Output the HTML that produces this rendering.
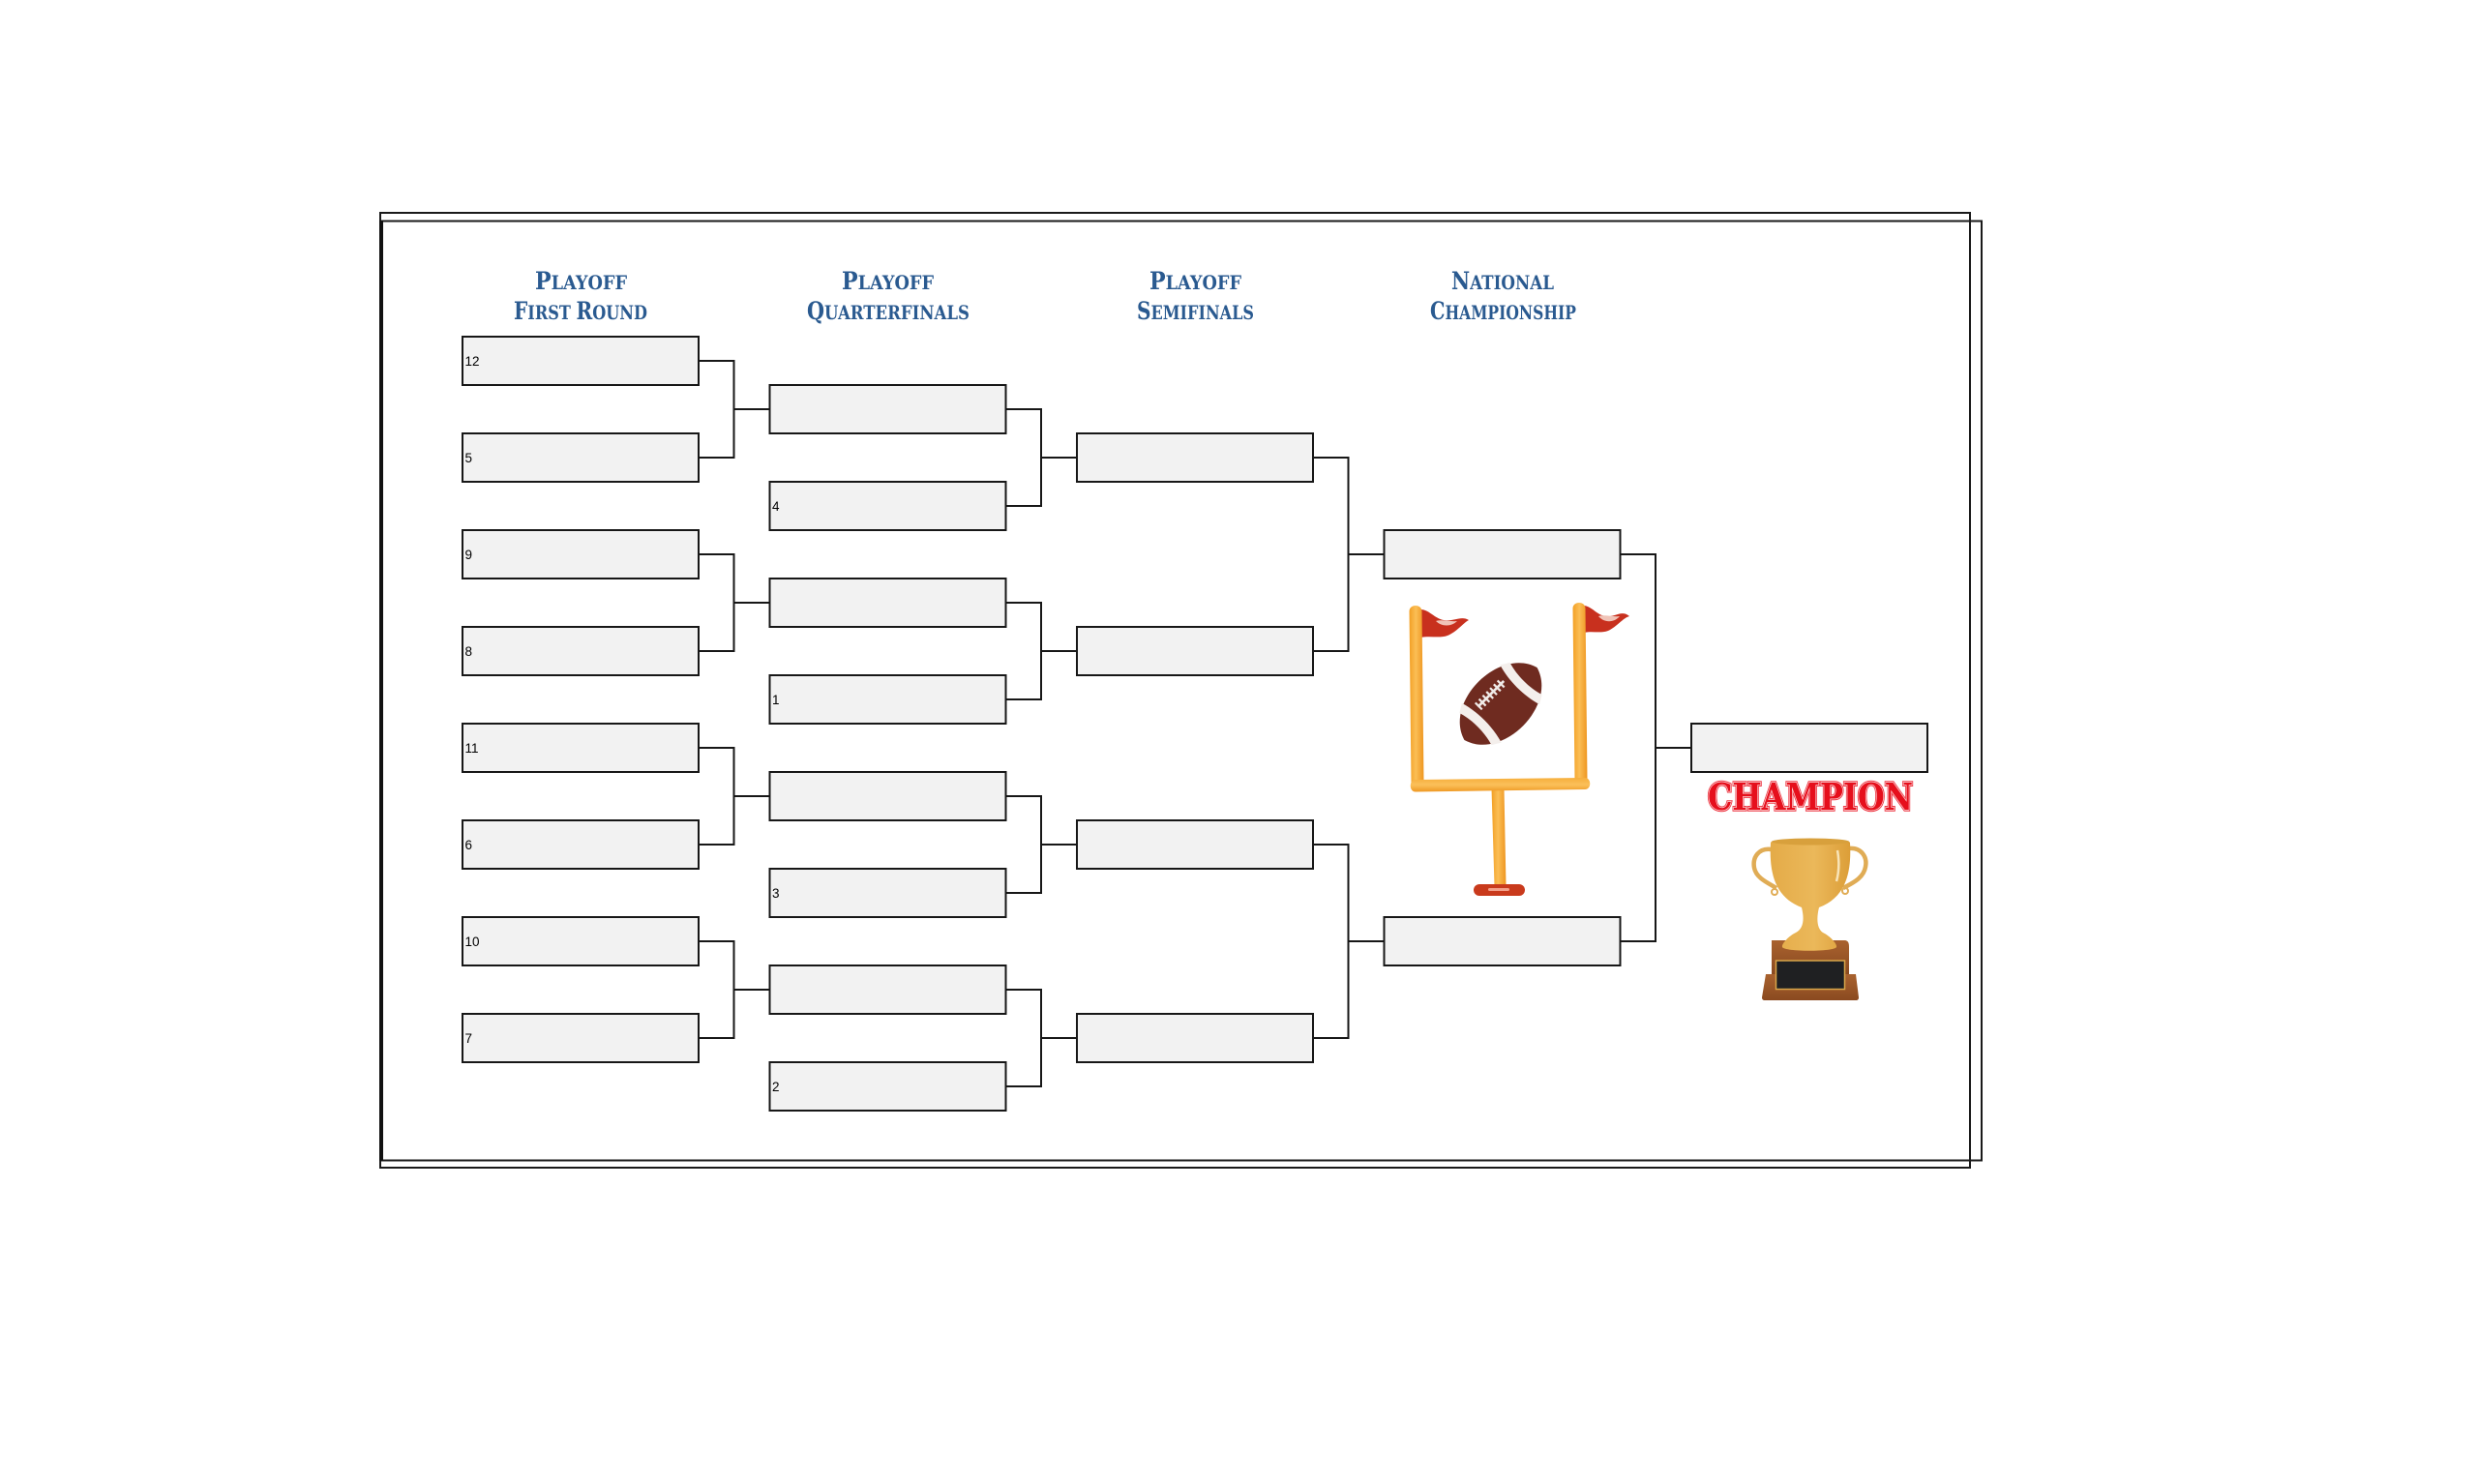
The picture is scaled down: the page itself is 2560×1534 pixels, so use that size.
<!DOCTYPE html>
<html lang="en">
<head>
<meta charset="utf-8">
<title>Playoff Bracket</title>
<style>
html,body{margin:0;padding:0;background:#fff}
svg{display:block}
.box{fill:#f2f2f2;stroke:#171717;stroke-width:2}
.ln{fill:none;stroke:#171717;stroke-width:2}
.frame{fill:none;stroke:#1a1a1a;stroke-width:2}
.seed{font-family:"Liberation Sans",Arial,sans-serif;font-size:13.5px;fill:#000}
.t{font-family:"DejaVu Serif","Liberation Serif",serif;font-weight:bold;font-size:20px;fill:#2a5a90;text-anchor:start}
.t tspan{font-size:25px}
.ch{font-family:"DejaVu Serif","Liberation Serif",serif;font-weight:bold;font-size:38px}
</style>
</head>
<body>
<svg xmlns="http://www.w3.org/2000/svg" width="2560" height="1534" viewBox="0 0 2560 1534">
<defs>
<linearGradient id="pole" x1="0" y1="0" x2="1" y2="0"><stop offset="0" stop-color="#f2a025"/><stop offset=".45" stop-color="#fbbe55"/><stop offset="1" stop-color="#ee9620"/></linearGradient>
<linearGradient id="bar" x1="0" y1="0" x2="0" y2="1"><stop offset="0" stop-color="#f6ae3c"/><stop offset=".5" stop-color="#fbc05a"/><stop offset="1" stop-color="#ee9822"/></linearGradient>
<linearGradient id="cup" x1="0" y1="0" x2="1" y2="0"><stop offset="0" stop-color="#e4ab48"/><stop offset=".55" stop-color="#ebb85a"/><stop offset="1" stop-color="#dc9e38"/></linearGradient>
<linearGradient id="wood" x1="0" y1="0" x2="0" y2="1"><stop offset="0" stop-color="#a9622f"/><stop offset="1" stop-color="#8a4a20"/></linearGradient>
</defs>

<!-- frames -->
<rect class="frame" x="393" y="220" width="1643" height="987"/>
<rect class="frame" x="394" y="228.500" width="1654" height="971"/>
<rect x="392" y="228" width="4" height="972" fill="#111"/>

<!-- titles -->
<text class="t" x="553" y="299" textLength="95" lengthAdjust="spacingAndGlyphs"><tspan>P</tspan>LAYOFF</text>
<text class="t" x="531" y="330" textLength="138" lengthAdjust="spacingAndGlyphs"><tspan>F</tspan>IRST <tspan>R</tspan>OUND</text>
<text class="t" x="870" y="299" textLength="95" lengthAdjust="spacingAndGlyphs"><tspan>P</tspan>LAYOFF</text>
<text class="t" x="834" y="330" textLength="168" lengthAdjust="spacingAndGlyphs"><tspan>Q</tspan>UARTERFINALS</text>
<text class="t" x="1188" y="299" textLength="95" lengthAdjust="spacingAndGlyphs"><tspan>P</tspan>LAYOFF</text>
<text class="t" x="1175" y="330" textLength="121" lengthAdjust="spacingAndGlyphs"><tspan>S</tspan>EMIFINALS</text>
<text class="t" x="1500" y="299" textLength="106" lengthAdjust="spacingAndGlyphs"><tspan>N</tspan>ATIONAL</text>
<text class="t" x="1478" y="330" textLength="151" lengthAdjust="spacingAndGlyphs"><tspan>C</tspan>HAMPIONSHIP</text>

<!-- connectors -->
<path class="ln" d="M722 373H758.500V473H722M758.500 423H795.500"/>
<path class="ln" d="M722 573H758.500V673H722M758.500 623H795.500"/>
<path class="ln" d="M722 773H758.500V873H722M758.500 823H795.500"/>
<path class="ln" d="M722 973H758.500V1073H722M758.500 1023H795.500"/>
<path class="ln" d="M1039.500 423H1076V523H1039.500M1076 473H1113"/>
<path class="ln" d="M1039.500 623H1076V723H1039.500M1076 673H1113"/>
<path class="ln" d="M1039.500 823H1076V923H1039.500M1076 873H1113"/>
<path class="ln" d="M1039.500 1023H1076V1123H1039.500M1076 1073H1113"/>
<path class="ln" d="M1357 473H1393.500V673H1357M1393.500 573H1430.500"/>
<path class="ln" d="M1357 873H1393.500V1073H1357M1393.500 973H1430.500"/>
<path class="ln" d="M1674.500 573H1711V973H1674.500M1711 773H1748"/>

<!-- column 1 -->
<rect class="box" x="478" y="348" width="244" height="50"/>
<rect class="box" x="478" y="448" width="244" height="50"/>
<rect class="box" x="478" y="548" width="244" height="50"/>
<rect class="box" x="478" y="648" width="244" height="50"/>
<rect class="box" x="478" y="748" width="244" height="50"/>
<rect class="box" x="478" y="848" width="244" height="50"/>
<rect class="box" x="478" y="948" width="244" height="50"/>
<rect class="box" x="478" y="1048" width="244" height="50"/>
<!-- column 2 -->
<rect class="box" x="795.500" y="398" width="244" height="50"/>
<rect class="box" x="795.500" y="498" width="244" height="50"/>
<rect class="box" x="795.500" y="598" width="244" height="50"/>
<rect class="box" x="795.500" y="698" width="244" height="50"/>
<rect class="box" x="795.500" y="798" width="244" height="50"/>
<rect class="box" x="795.500" y="898" width="244" height="50"/>
<rect class="box" x="795.500" y="998" width="244" height="50"/>
<rect class="box" x="795.500" y="1098" width="244" height="50"/>
<!-- column 3 -->
<rect class="box" x="1113" y="448" width="244" height="50"/>
<rect class="box" x="1113" y="648" width="244" height="50"/>
<rect class="box" x="1113" y="848" width="244" height="50"/>
<rect class="box" x="1113" y="1048" width="244" height="50"/>
<!-- column 4 -->
<rect class="box" x="1430.500" y="548" width="244" height="50"/>
<rect class="box" x="1430.500" y="948" width="244" height="50"/>
<!-- champion -->
<rect class="box" x="1748" y="748" width="244" height="50"/>

<!-- seeds -->
<text class="seed" x="480.500" y="378">12</text>
<text class="seed" x="480.500" y="478">5</text>
<text class="seed" x="480.500" y="578">9</text>
<text class="seed" x="480.500" y="678">8</text>
<text class="seed" x="480.500" y="778">11</text>
<text class="seed" x="480.500" y="878">6</text>
<text class="seed" x="480.500" y="978">10</text>
<text class="seed" x="480.500" y="1078">7</text>
<text class="seed" x="798" y="528">4</text>
<text class="seed" x="798" y="728">1</text>
<text class="seed" x="798" y="928">3</text>
<text class="seed" x="798" y="1128">2</text>

<!-- goal post -->
<g>
  <path d="M1468 630C1477 630 1482 639 1492 641C1502 643 1510 636 1518 641C1512 644 1506 653 1496 657C1488 660 1478 657 1468 659Z" fill="#c8301e"/>
  <path d="M1484 642C1490 640 1500 643 1506 642C1500 648 1490 648 1484 642Z" fill="#f0c4b8"/>
  <path d="M1637 626C1646 627 1650 636 1660 637C1670 638 1676 630 1684 637C1677 639 1671 648 1662 652C1654 655 1646 652 1637 654Z" fill="#c8301e"/>
  <path d="M1652 637C1658 635 1668 638 1674 637C1668 644 1658 644 1652 637Z" fill="#f0c4b8"/>
  <path d="M1456.500 632C1456.500 624 1469.500 624 1469.500 632L1471.500 809H1458.500Z" fill="url(#pole)"/>
  <path d="M1625.500 629C1625.500 621 1638.500 621 1638.500 629L1640.500 806H1627.500Z" fill="url(#pole)"/>
  <path d="M1541.500 815H1554.500L1556.500 916H1544.500Z" fill="url(#pole)"/>
  <path d="M1463 806L1638 804C1645 804 1645 816 1638 816L1463 818.500C1456 818.500 1456 806 1463 806Z" fill="url(#bar)"/>
  <rect x="1523" y="914" width="53" height="12" rx="6" fill="#c93a1c"/>
  <rect x="1538" y="918" width="22" height="3" rx="1.500" fill="#f3a08a"/>
</g>

<!-- football -->
<g transform="translate(1551 727.500) rotate(-45) scale(.9)">
  <path d="M-59 0C-45 -48 45 -48 59 0C45 48 -45 48 -59 0Z" fill="#6f2b20"/>
  <path d="M-41 -26C-36 -10 -36 10 -41 26L-31 32C-25 12 -25 -12 -31 -32Z" fill="#f4efec"/>
  <path d="M41 -26C36 -10 36 10 41 26L31 32C25 12 25 -12 31 -32Z" fill="#f4efec"/>
  <path d="M-21 -16H21" stroke="#f0ebe8" stroke-width="3" fill="none"/>
  <path d="M-21 -16H21" stroke="#f0ebe8" stroke-width="11" stroke-dasharray="2.500 3.500" fill="none"/>
</g>

<!-- CHAMPION wordmark -->
<text class="ch" x="1765" y="837" textLength="212" lengthAdjust="spacingAndGlyphs" fill="none" stroke="#ee3a46" stroke-width="3.500" stroke-linejoin="miter">CHAMPION</text>
<text class="ch" x="1765" y="837" textLength="212" lengthAdjust="spacingAndGlyphs" fill="none" stroke="#fbd4d6" stroke-width="1.500" stroke-linejoin="miter">CHAMPION</text>
<text class="ch" x="1765" y="837" textLength="212" lengthAdjust="spacingAndGlyphs" fill="#e60f1c">CHAMPION</text>

<!-- trophy -->
<g>
  <path d="M1831 878C1818 876 1811 886 1813 897C1815 908 1828 913 1836 918" fill="none" stroke="#e0ac55" stroke-width="4.500"/>
  <path d="M1911 877C1924 876 1930 886 1928 896C1926 908 1914 913 1905 918" fill="none" stroke="#e0ac55" stroke-width="4.500"/>
  <circle cx="1834" cy="922" r="3" fill="none" stroke="#e0ac55" stroke-width="2"/>
  <circle cx="1907" cy="921" r="3" fill="none" stroke="#e0ac55" stroke-width="2"/>
  <path d="M1831 972H1906C1911 972 1911 976 1911 980V1007H1831Z" fill="url(#wood)"/>
  <path d="M1825 1007H1918L1921 1031C1921 1033 1920 1034 1918 1034H1824C1822 1034 1821 1033 1821 1031Z" fill="url(#wood)"/>
  <rect x="1835.500" y="993" width="71" height="29.500" fill="#1f2022" stroke="#d9a64a" stroke-width="1.500"/>
  <path d="M1830 871C1830 866 1912 866 1912 871C1914 905 1906 928 1880 938C1877 950 1878 960 1884 964C1892 968 1899 976 1898 979C1896 984 1844 984 1842 979C1841 976 1848 968 1856 964C1864 960 1865 950 1862 938C1836 928 1828 905 1830 871Z" fill="url(#cup)"/>
  <ellipse cx="1871" cy="870" rx="40" ry="3.500" fill="#d8a03c"/>
  <path d="M1899 879C1901 890 1901 900 1898 911" fill="none" stroke="#f8e4b8" stroke-width="2.500"/>
</g>
</svg>
</body>
</html>
